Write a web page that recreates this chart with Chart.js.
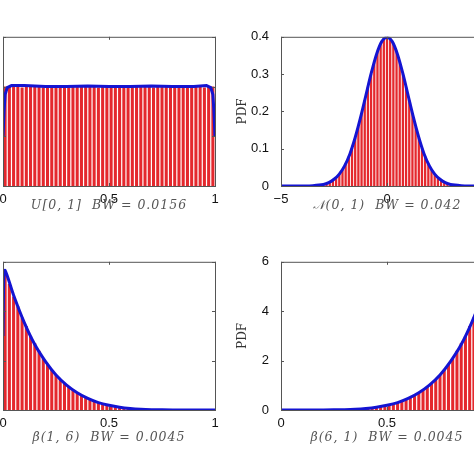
<!DOCTYPE html>
<html><head><meta charset="utf-8">
<script src="https://cdn.jsdelivr.net/npm/chart.js@4/dist/chart.umd.min.js"></script>
<style>
body{margin:0;background:#fff;overflow:hidden;width:474px;height:474px;position:relative}
canvas{position:absolute}
.t{position:absolute;font-family:"DejaVu Serif",serif;font-style:italic;font-size:12.5px;color:#555;white-space:nowrap;transform:translateX(-50%);letter-spacing:1px}
</style></head><body>
<canvas id="c1"></canvas><canvas id="c2"></canvas><canvas id="c3"></canvas><canvas id="c4"></canvas>
<div class="t" style="left:109px;top:197px">U[0, 1] &nbsp;BW = 0.0156</div>
<div class="t" style="left:387px;top:197px">𝒩(0, 1) &nbsp;BW = 0.042</div>
<div class="t" style="left:109px;top:429px">β(1, 6) &nbsp;BW = 0.0045</div>
<div class="t" style="left:387px;top:429px">β(6, 1) &nbsp;BW = 0.0045</div>
<script>
// ---- data ----
const uniBinX = [0.01,0.03,0.05,0.07,0.09,0.11,0.13,0.15,0.17,0.19,0.21,0.23,0.25,0.27,0.29,0.31,0.33,0.35,0.37,0.39,0.41,0.43,0.45,0.47,0.49,0.51,0.53,0.55,0.57,0.59,0.61,0.63,0.65,0.67,0.69,0.71,0.73,0.75,0.77,0.79,0.81,0.83,0.85,0.87,0.89,0.91,0.93,0.95,0.97,0.99];
const uniBinY = [1.0,1.0,1.01,1.0,0.99,1.0,1.01,1.0,1.0,0.99,1.0,1.0,1.01,1.0,1.0,0.99,1.0,1.0,1.01,1.0,1.0,1.0,0.99,1.0,1.0,1.01,1.0,1.0,1.0,0.99,1.0,1.01,1.0,1.0,1.0,0.99,1.0,1.0,1.01,1.0,1.0,0.99,1.0,1.0,1.01,1.0,1.0,0.99,1.0,1.0];
const uniLineX = [0,0.005,0.01,0.02,0.04,0.1,0.2,0.3,0.4,0.5,0.6,0.7,0.8,0.9,0.96,0.98,0.99,0.995,1];
const uniLineY = [0.5,0.75,0.92,0.99,1.01,1.01,1.0,1.0,1.005,1.0,1.0,1.005,1.0,1.0,1.01,0.99,0.92,0.75,0.5];

const normBinX = [-3.0,-2.85,-2.7,-2.55,-2.4,-2.25,-2.1,-1.95,-1.8,-1.65,-1.5,-1.35,-1.2,-1.05,-0.9,-0.75,-0.6,-0.45,-0.3,-0.15,0,0.15,0.3,0.45,0.6,0.75,0.9,1.05,1.2,1.35,1.5,1.65,1.8,1.95,2.1,2.25,2.4,2.55,2.7,2.85,3.0];
const normBinY = [0.004,0.007,0.010,0.016,0.022,0.032,0.044,0.060,0.079,0.102,0.130,0.160,0.194,0.230,0.266,0.301,0.333,0.361,0.381,0.395,0.399,0.395,0.381,0.361,0.333,0.301,0.266,0.230,0.194,0.160,0.130,0.102,0.079,0.060,0.044,0.032,0.022,0.016,0.010,0.007,0.004];
const normLineX = [-5,-4.5,-4,-3.5,-3,-2.75,-2.5,-2.25,-2,-1.75,-1.5,-1.25,-1,-0.75,-0.5,-0.25,0,0.25,0.5,0.75,1,1.25,1.5,1.75,2,2.25,2.5,2.75,3,3.5,4,4.5,5];
const normLineY = [0,0,0.0002,0.001,0.004,0.009,0.018,0.032,0.054,0.086,0.130,0.183,0.242,0.301,0.352,0.387,0.399,0.387,0.352,0.301,0.242,0.183,0.130,0.086,0.054,0.032,0.018,0.009,0.004,0.001,0.0002,0,0];

const b16BinX = [0.01,0.03,0.05,0.07,0.09,0.11,0.13,0.15,0.17,0.19,0.21,0.23,0.25,0.27,0.29,0.31,0.33,0.35,0.37,0.39,0.41,0.43,0.45,0.47,0.49,0.51,0.53,0.55,0.57,0.59,0.61,0.63,0.65];
const b16BinY = [5.6,5.1,4.6,4.2,3.75,3.4,3.0,2.7,2.4,2.1,1.85,1.62,1.42,1.24,1.08,0.94,0.81,0.70,0.60,0.51,0.43,0.36,0.30,0.25,0.21,0.17,0.14,0.11,0.09,0.07,0.05,0.04,0.03];
const b16LineX = [0,0.004,0.01,0.05,0.1,0.15,0.2,0.25,0.3,0.35,0.4,0.45,0.5,0.55,0.6,0.65,0.7,0.8,0.9,1];
const b16LineY = [3.0,5.4,5.65,4.65,3.55,2.65,1.97,1.42,1.01,0.70,0.47,0.30,0.19,0.11,0.06,0.03,0.015,0,0,0];

const b61BinX = [0.35,0.37,0.39,0.41,0.43,0.45,0.47,0.49,0.51,0.53,0.55,0.57,0.59,0.61,0.63,0.65,0.67,0.69,0.71,0.73,0.75,0.77,0.79,0.81,0.83,0.85,0.87,0.89,0.91,0.93,0.95,0.97,0.99];
const b61BinY = [0.03,0.04,0.05,0.07,0.09,0.11,0.14,0.17,0.21,0.25,0.30,0.36,0.43,0.51,0.60,0.70,0.81,0.94,1.08,1.24,1.42,1.62,1.85,2.1,2.4,2.7,3.0,3.4,3.75,4.2,4.6,5.1,5.6];
const b61LineX = [0,0.1,0.2,0.3,0.35,0.4,0.45,0.5,0.55,0.6,0.65,0.7,0.75,0.8,0.85,0.9,0.95,0.99,1];
const b61LineY = [0,0,0,0.015,0.03,0.06,0.11,0.19,0.30,0.47,0.70,1.01,1.42,1.97,2.65,3.55,4.65,5.65,3.0];

const xTicksU = [0,0.5,1], xTicksN = [-5,0,5];
const yTicksN = [0,0.1,0.2,0.3,0.4], yTicksB = [0,2,4,6], yTicksU = [0,0.5,1,1.5];

// ---- drawing ----
const YW = 45, PADT = 10, PADR = 12, XH = 40;
const boxPlugin = {id:'box', afterDraw(ch){
  const a = ch.chartArea, c = ch.ctx; c.save();
  c.strokeStyle = '#555'; c.lineWidth = 1;
  c.strokeRect(a.left+0.5, a.top+0.5, a.right-a.left, a.bottom-a.top);
  const xs = ch.scales.x, ys = ch.scales.y;
  c.beginPath();
  xs.ticks.forEach(t=>{const p=Math.round(xs.getPixelForValue(t.value))+0.5;c.moveTo(p,a.bottom);c.lineTo(p,a.bottom-3);c.moveTo(p,a.top);c.lineTo(p,a.top+3);});
  ys.ticks.forEach(t=>{const p=Math.round(ys.getPixelForValue(t.value))+0.5;c.moveTo(a.left,p);c.lineTo(a.left+3,p);c.moveTo(a.right,p);c.lineTo(a.right-3,p);});
  c.stroke(); c.restore();
}};
const fmt = v => v < 0 ? '\u2212' + String(-v) : String(v);
function mk(id, left, top, pw, ph, bx, by, lx, ly, xmin, xmax, xt, ymax, yt, ylab, tens){
  const cv = document.getElementById(id);
  const W = YW + pw + PADR, H = PADT + ph + XH;
  cv.style.left = (left - YW) + 'px'; cv.style.top = (top - PADT) + 'px';
  cv.style.width = W + 'px'; cv.style.height = H + 'px';
  cv.width = W; cv.height = H;
  const font = {family:'"Liberation Sans", Arial, sans-serif', size:13};
  new Chart(cv, {
    type:'bar',
    data:{datasets:[
      {type:'line', data:lx.map((x,i)=>({x, y:ly[i]})), borderColor:'rgb(20,20,210)', borderWidth:3, pointRadius:0, tension:tens, order:0},
      {type:'bar', data:bx.map((x,i)=>({x, y:by[i]})), backgroundColor:'rgb(228,40,45)', barPercentage:0.72, categoryPercentage:1, order:1}
    ]},
    options:{responsive:false, animation:false, devicePixelRatio:1,
      layout:{padding:{top:PADT, right:PADR, left:0, bottom:0}},
      plugins:{legend:{display:false}, tooltip:{enabled:false}},
      scales:{
        x:{type:'linear', min:xmin, max:xmax, offset:false, grid:{display:false}, border:{display:false},
           afterBuildTicks:s=>{s.ticks = xt.map(v=>({value:v}));},
           afterFit:s=>{s.height = XH;},
           ticks:{font, color:'#111', padding:-2, maxRotation:0, autoSkip:false, callback:fmt}},
        y:{min:0, max:ymax, grid:{display:false}, border:{display:false},
           afterBuildTicks:s=>{s.ticks = yt.map(v=>({value:v}));},
           afterFit:s=>{s.width = YW;},
           title:{display:!!ylab, text:ylab, font:{family:'"DejaVu Serif", serif', size:12}, color:'#333', padding:0},
           ticks:{font, color:'#111', padding:4, autoSkip:false, callback:fmt}}
      }},
    plugins:[boxPlugin]
  });
}
mk('c1', 3, 35, 212, 151, uniBinX, uniBinY, uniLineX, uniLineY, 0, 1, xTicksU, 1.5, yTicksU, '', 0);
mk('c2', 281, 35, 212, 151, normBinX, normBinY, normLineX, normLineY, -5, 5, xTicksN, 0.4, yTicksN, 'PDF', 0.3);
mk('c3', 3, 260, 212, 150, b16BinX, b16BinY, b16LineX, b16LineY, 0, 1, xTicksU, 6, yTicksB, '', 0.3);
mk('c4', 281, 260, 212, 150, b61BinX, b61BinY, b61LineX, b61LineY, 0, 1, xTicksU, 6, yTicksB, 'PDF', 0.3);
</script></body></html>
